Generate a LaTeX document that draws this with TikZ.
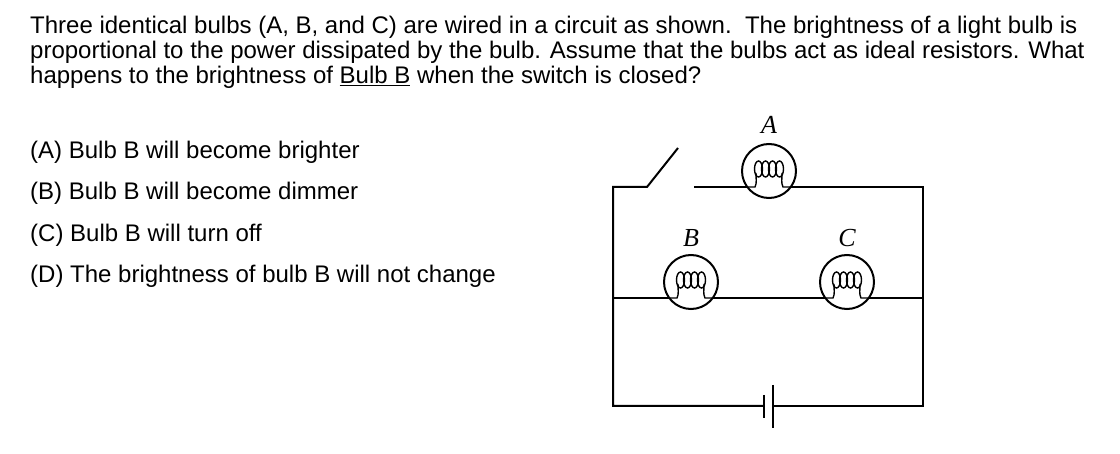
\documentclass[tikz,border=0pt]{standalone}
\usepackage{fontspec}
\setmainfont{Liberation Sans}
\newfontfamily\timesf{Liberation Serif}
\tikzset{
  wire/.style={line width=2pt},
  txt/.style={anchor=base west,inner sep=0pt,font=\fontsize{24}{26}\selectfont},
  lbl/.style={font=\timesf\itshape\fontsize{26}{28}\selectfont,inner sep=0pt},
  bulbc/.style={circle,draw,line width=2pt,minimum size=54pt,inner sep=0pt}
}
\newcommand{\mybulb}[2]{%
  \node[bulbc] (#2) at (#1) {};
  \begin{scope}[shift={(#1)},line width=1.4pt]
    \draw (-21,16) -- (-14,16) .. controls (-12,12) and (-13,8) .. (-13,2);
    \draw (21,16) -- (14,16) .. controls (12,12) and (13,8) .. (13,2);
    \foreach \xx in {-10.5,-3.5,3.5,10.5} \draw (\xx,-2) ellipse (4 and 8);
  \end{scope}}
\begin{document}
\begin{tikzpicture}[x=1pt,y=-1pt]
\useasboundingbox (0,0) rectangle (1120,454);
\node[txt] (l1) at (30,34) {Three identical bulbs (A, B, and C) are wired in a circuit as shown.\ \ The brightness of a light bulb is};
\node[txt] (l2) at (30,59) {proportional to the power dissipated by the bulb. Assume that the bulbs act as ideal resistors. What};
\node[txt] (l3) at (30,84) {happens to the brightness of \underline{Bulb B} when the switch is closed?};
\node[txt] (oa) at (30,159) {(A) Bulb B will become brighter};
\node[txt] (ob) at (30,200) {(B) Bulb B will become dimmer};
\node[txt] (oc) at (30,242) {(C) Bulb B will turn off};
\node[txt] (od) at (30,283) {(D) The brightness of bulb B will not change};
% circuit
\mybulb{769,171}{A}
\mybulb{691,282}{B}
\mybulb{847,282}{C}
\node[lbl] (la) at (769,125) {A};
\node[lbl] (lb) at (691,238) {B};
\node[lbl] (lc) at (847,238) {C};
\coordinate (tl) at (613,187); \coordinate (tr) at (923,187);
\coordinate (ml) at (613,298); \coordinate (mr) at (923,298);
\coordinate (bl) at (613,406); \coordinate (br) at (923,406);
\coordinate (s1) at (647,187); \coordinate (s2) at (678,148); \coordinate (s3) at (694,187);
\coordinate (p1) at (764,406); \coordinate (p2) at (773,406);
\draw[wire] (s2) -- (s1) -- (tl) -- (bl) -- (p1);
\draw[wire] (p2) -- (br) -- (tr) -- (790.5,187);
\draw[wire] (s3) -- (747.5,187);
\draw[wire] (ml) -- (669.5,298); \draw[wire] (712.5,298) -- (825.5,298); \draw[wire] (868.5,298) -- (mr);
\draw[wire] (764,395) -- (764,418);
\draw[wire] (773,385) -- (773,428);
\end{tikzpicture}
\end{document}
